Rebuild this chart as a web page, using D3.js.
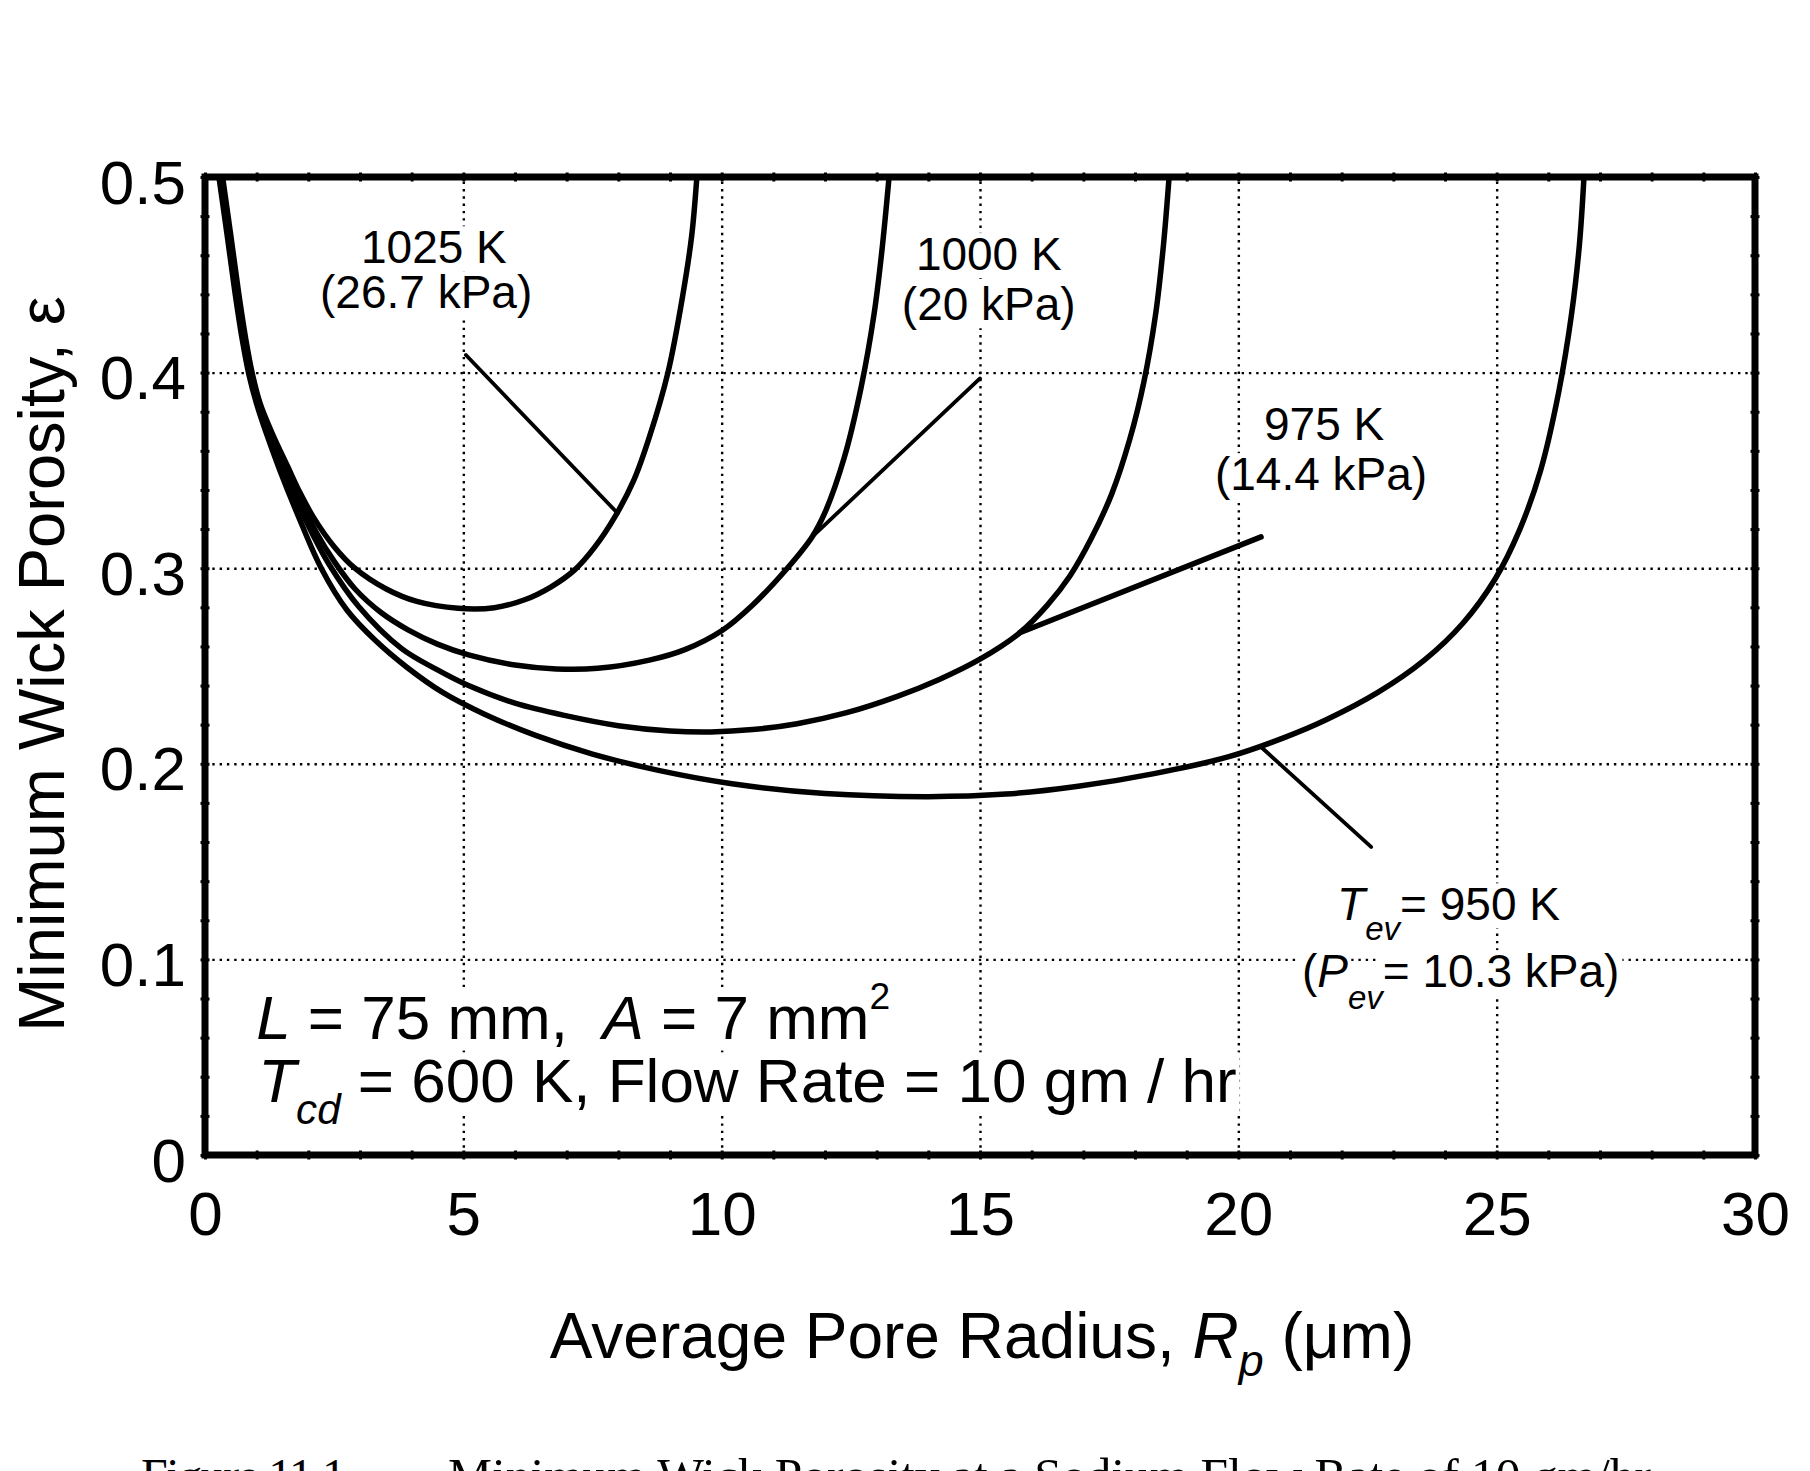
<!DOCTYPE html>
<html>
<head>
<meta charset="utf-8">
<script src="https://cdn.jsdelivr.net/npm/d3@7"></script>
<style>
  body { margin: 0; background: #fff; overflow: hidden; }
  text { font-family: 'Liberation Sans', Arial, sans-serif; fill: #000; }
  .grid line { stroke: #000; stroke-width: 2.4; stroke-dasharray: 2.4 4.9; }
  .grid path, .frame-ticks path, .labels path { display: none; }
  .frame-ticks line { stroke: #000; stroke-width: 3; }
  .curve { fill: none; stroke: #000; stroke-width: 5.5; stroke-linejoin: round; stroke-linecap: round; }
  .leader { stroke: #000; stroke-linecap: round; }
</style>
</head>
<body>
<div class="chart-container"></div>
<script>
'use strict'
// Data: pore radius (um) and minimum porosity per curve.
const radius1025 = [0.34, 0.5, 0.65, 0.79, 0.92, 1.07, 1.3, 1.6, 1.85, 2.1, 2.5, 2.9, 3.5, 4.1, 4.9, 5.6, 6.2, 6.7, 7.15, 7.55, 7.95, 8.3, 8.6, 8.96, 9.25, 9.42, 9.52];
const porosity1025 = [0.5, 0.47, 0.441, 0.417, 0.399, 0.384, 0.369, 0.352, 0.338, 0.326, 0.311, 0.3, 0.2895, 0.283, 0.2795, 0.2798, 0.284, 0.2905, 0.299, 0.311, 0.327, 0.345, 0.367, 0.4, 0.44, 0.47, 0.5];

const radius1000 = [0.31, 0.47, 0.62, 0.76, 0.89, 1.04, 1.27, 1.54, 1.85, 2.15, 2.5, 2.9, 3.4, 3.93, 4.5, 5.1, 6.0, 6.8, 7.6, 8.6, 9.3, 10.0, 10.6, 11.27, 11.75, 12.0, 12.37, 12.7, 12.95, 13.1, 13.24];
const porosity1000 = [0.5, 0.47, 0.441, 0.417, 0.399, 0.384, 0.369, 0.352, 0.3345, 0.3185, 0.3035, 0.2895, 0.2775, 0.2685, 0.2612, 0.2557, 0.2505, 0.2485, 0.2488, 0.253, 0.2585, 0.268, 0.2812, 0.3, 0.316, 0.3285, 0.3563, 0.3926, 0.43, 0.462, 0.5];

const radius975 = [0.29, 0.45, 0.6, 0.74, 0.87, 1.02, 1.24, 1.5, 1.8, 2.1, 2.4, 2.97, 3.8, 4.5, 5.1, 6.0, 7.0, 8.0, 9.0, 9.8, 10.6, 11.46, 12.4, 13.4, 14.2, 15.0, 15.77, 16.3, 16.74, 17.15, 17.55, 17.9, 18.17, 18.4, 18.55, 18.66];
const porosity975 = [0.5, 0.47, 0.441, 0.417, 0.399, 0.384, 0.369, 0.352, 0.333, 0.3165, 0.302, 0.2805, 0.259, 0.248, 0.24, 0.231, 0.2245, 0.2195, 0.2168, 0.2163, 0.2175, 0.2205, 0.226, 0.2345, 0.243, 0.2535, 0.267, 0.281, 0.296, 0.315, 0.338, 0.366, 0.395, 0.43, 0.465, 0.5];

const radius950 = [0.27, 0.43, 0.58, 0.72, 0.85, 1.0, 1.2, 1.45, 1.8, 2.25, 2.75, 3.3, 3.9, 4.6, 5.4, 6.4, 7.5, 8.8, 10.2, 12.0, 14.0, 15.5, 16.9, 18.37, 19.8, 20.9, 21.7, 22.7, 23.6, 24.35, 24.97, 25.45, 25.85, 26.2, 26.45, 26.6, 26.69];
const porosity950 = [0.5, 0.47, 0.441, 0.417, 0.399, 0.384, 0.368, 0.35, 0.327, 0.3, 0.2785, 0.263, 0.2495, 0.2365, 0.2255, 0.2145, 0.205, 0.1965, 0.1898, 0.1848, 0.1832, 0.1845, 0.1885, 0.195, 0.2035, 0.2135, 0.2225, 0.2365, 0.253, 0.272, 0.2945, 0.32, 0.35, 0.39, 0.43, 0.465, 0.5];

// Leader lines [r1, e1, r2, e2] from label to curve.
const leader1025 = [5.05, 0.409, 7.99, 0.328];
const leader1000 = [15.0, 0.397, 11.75, 0.316];
const leader975 = [20.44, 0.316, 15.77, 0.267];
const leader950 = [20.44, 0.2086, 22.57, 0.1575];

// Ticks.
const xTickValues = [0, 5, 10, 15, 20, 25, 30];
const xTickLabels = ['0', '5', '10', '15', '20', '25', '30'];
const yTickValues = [0, 0.1, 0.2, 0.3, 0.4, 0.5];
const yTickLabels = ['0', '0.1', '0.2', '0.3', '0.4', '0.5'];
const xGridValues = [5, 10, 15, 20, 25];
const yGridValues = [0.1, 0.2, 0.3, 0.4];
const xMinorValues = d3.range(0, 31);
const yMinorValues = d3.range(0, 26).map(i => i * 0.02);

const curves = [
  { r: radius1025, e: porosity1025 },
  { r: radius1000, e: porosity1000 },
  { r: radius975, e: porosity975 },
  { r: radius950, e: porosity950 },
];

// Text helper: parts with italic / shifted (sub / sup) runs.
function richText(sel, parts, fs) {
  const text = sel.append('text').attr('font-size', fs).style('white-space', 'pre');
  let shift = 0;
  parts.forEach(p => {
    const s = p.shift || 0;
    const ts = text.append('tspan').text(p.t).attr('dy', s - shift);
    shift = s;
    if (p.it) ts.style('font-style', 'italic');
    if (p.size) ts.attr('font-size', p.size * fs);
    ts.classed('base', !s);
  });
  return text;
}

function main() {
  // CHART MARGINS
  const margin = { top: 177, right: 55, bottom: 316, left: 205 };
  const width = 1810 - margin.left - margin.right;
  const height = 1471 - margin.top - margin.bottom;

  const xScale = d3.scaleLinear([0, 30], [0, width]);
  const yScale = d3.scaleLinear([0, 0.5], [height, 0]);

  // DRAW BASE SVG
  const root = d3.select('.chart-container')
    .append('svg')
    .attr('width', 1810)
    .attr('height', 1471);

  const svg = root.append('g')
    .attr('transform', `translate(${margin.left}, ${margin.top})`);

  // GRID
  svg.append('g')
    .attr('class', 'grid')
    .attr('transform', `translate(0, ${height})`)
    .call(d3.axisBottom(xScale).tickValues(xGridValues).tickSize(-height).tickFormat(''));

  svg.append('g')
    .attr('class', 'grid')
    .call(d3.axisLeft(yScale).tickValues(yGridValues).tickSize(-width).tickFormat(''));

  // label backgrounds go under the curves
  const bgLayer = svg.append('g').attr('class', 'label-bg');

  // CURVES
  const line = d3.line()
    .x(d => xScale(d[0]))
    .y(d => yScale(d[1]))
    .curve(d3.curveCatmullRom.alpha(0.5));

  svg.selectAll('.curve')
    .data(curves)
    .enter()
    .append('path')
    .attr('class', 'curve')
    .attr('d', c => line(c.r.map((r, i) => [r, c.e[i]])));

  // LEADERS
  const leaders = [
    { l: leader1025, w: 3.8 },
    { l: leader1000, w: 3.8 },
    { l: leader975, w: 5.5 },
    { l: leader950, w: 3.8 },
  ];
  svg.selectAll('.leader')
    .data(leaders)
    .enter()
    .append('line')
    .attr('class', 'leader')
    .attr('x1', d => xScale(d.l[0]))
    .attr('y1', d => yScale(d.l[1]))
    .attr('x2', d => xScale(d.l[2]))
    .attr('y2', d => yScale(d.l[3]))
    .attr('stroke-width', d => d.w);

  // FRAME
  svg.append('rect')
    .attr('width', width)
    .attr('height', height)
    .attr('fill', 'none')
    .attr('stroke', '#000')
    .attr('stroke-width', 7);

  // FRAME TICKS (small marks across the frame on all sides)
  const hTicks = [
    { axis: d3.axisBottom(xScale), y: height },
    { axis: d3.axisTop(xScale), y: 0 },
  ];
  hTicks.forEach(t => {
    svg.append('g')
      .attr('class', 'frame-ticks')
      .attr('transform', `translate(0, ${t.y})`)
      .call(t.axis.tickValues(xMinorValues).tickSize(0).tickFormat(''))
      .selectAll('.tick line')
      .attr('y1', -4.5)
      .attr('y2', 4.5);
  });
  const vTicks = [
    { axis: d3.axisLeft(yScale), x: 0 },
    { axis: d3.axisRight(yScale), x: width },
  ];
  vTicks.forEach(t => {
    svg.append('g')
      .attr('class', 'frame-ticks')
      .attr('transform', `translate(${t.x}, 0)`)
      .call(t.axis.tickValues(yMinorValues).tickSize(0).tickFormat(''))
      .selectAll('.tick line')
      .attr('x1', -4.5)
      .attr('x2', 4.5);
  });

  // TICK LABELS
  const xLabels = svg.append('g')
    .attr('class', 'labels')
    .attr('transform', `translate(0, ${height})`)
    .call(d3.axisBottom(xScale).tickValues(xTickValues).tickSize(0).tickPadding(36)
      .tickFormat((d, i) => xTickLabels[i]));
  xLabels.attr('font-size', 62).attr('font-family', null);

  const yLabels = svg.append('g')
    .attr('class', 'labels')
    .call(d3.axisLeft(yScale).tickValues(yTickValues).tickSize(0).tickPadding(19)
      .tickFormat((d, i) => yTickLabels[i]));
  yLabels.attr('font-size', 62).attr('font-family', null);
  yLabels.selectAll('text').attr('dy', '0.42em');

  // AXIS TITLES
  richText(root, [
    { t: 'Average Pore Radius, ' },
    { t: 'R', it: true },
    { t: 'p', it: true, shift: 18, size: 0.7 },
    { t: ' (\u03bcm)' },
  ], 64)
    .attr('x', margin.left + xScale(15) + 2)
    .attr('y', 1358)
    .attr('text-anchor', 'middle');

  root.append('text')
    .attr('font-size', 65)
    .attr('text-anchor', 'middle')
    .attr('transform', `translate(64, ${margin.top + height / 2 - 2}) rotate(-90)`)
    .text('Minimum Wick Porosity, \u03b5');

  // ANNOTATIONS (anchored in data units)
  const annotations = [
    { r: 4.43, e: 0.456, anchor: 'middle', fs: 46, parts: [{ t: '1025 K' }] },
    { r: 4.28, e: 0.433, anchor: 'middle', fs: 46, parts: [{ t: '(26.7 kPa)' }] },
    { r: 15.17, e: 0.4525, anchor: 'middle', fs: 46, parts: [{ t: '1000 K' }] },
    { r: 15.17, e: 0.4269, anchor: 'middle', fs: 46, parts: [{ t: '(20 kPa)' }] },
    { r: 21.66, e: 0.3655, anchor: 'middle', fs: 46, parts: [{ t: '975 K' }] },
    { r: 21.6, e: 0.340, anchor: 'middle', fs: 46, parts: [{ t: '(14.4 kPa)' }] },
    { r: 21.91, e: 0.1201, anchor: 'start', fs: 46, parts: [
      { t: 'T', it: true }, { t: 'ev', it: true, shift: 20, size: 0.72 }, { t: '= 950 K' }] },
    { r: 21.23, e: 0.0859, anchor: 'start', fs: 46, parts: [
      { t: '(' }, { t: 'P', it: true }, { t: 'ev', it: true, shift: 22, size: 0.72 }, { t: '= 10.3 kPa)' }] },
    { r: 0.99, e: 0.0593, anchor: 'start', fs: 62, parts: [
      { t: 'L', it: true }, { t: ' = 75 mm,  ' }, { t: 'A', it: true }, { t: ' = 7 mm' },
      { t: '2', shift: -30, size: 0.6 }] },
    { r: 1.03, e: 0.0271, anchor: 'start', fs: 62, parts: [
      { t: 'T', it: true }, { t: 'cd', it: true, shift: 22, size: 0.68 },
      { t: ' = 600 K, Flow Rate = 10 gm / hr' }] },
  ];

  const annoLayer = svg.append('g').attr('class', 'annotations');
  annotations.forEach(a => {
    const px = xScale(a.r);
    const py = yScale(a.e);
    const text = richText(annoLayer, a.parts, a.fs)
      .attr('x', px)
      .attr('y', py)
      .attr('text-anchor', a.anchor);
    // white box behind the unshifted runs hides the dotted grid
    text.selectAll('tspan.base').each(function () {
      const b = this.getBBox();
      bgLayer.append('rect')
        .attr('x', b.x - 3)
        .attr('width', b.width + 6)
        .attr('y', py - 0.8 * a.fs)
        .attr('height', 0.98 * a.fs)
        .attr('fill', '#fff');
    });
  });

  // CAPTION (cut off by the page edge)
  root.append('text')
    .attr('font-size', 48)
    .style('font-family', "'Liberation Serif', 'Times New Roman', serif")
    .attr('x', 141)
    .attr('y', 1492)
    .attr('textLength', 205)
    .text('Figure 11.1');

  root.append('text')
    .attr('font-size', 48)
    .style('font-family', "'Liberation Serif', 'Times New Roman', serif")
    .attr('x', 448)
    .attr('y', 1492)
    .attr('textLength', 1203)
    .attr('lengthAdjust', 'spacingAndGlyphs')
    .text('Minimum Wick Porosity at a Sodium Flow Rate of 10 gm/hr');
}

// START
main();
</script>
</body>
</html>
